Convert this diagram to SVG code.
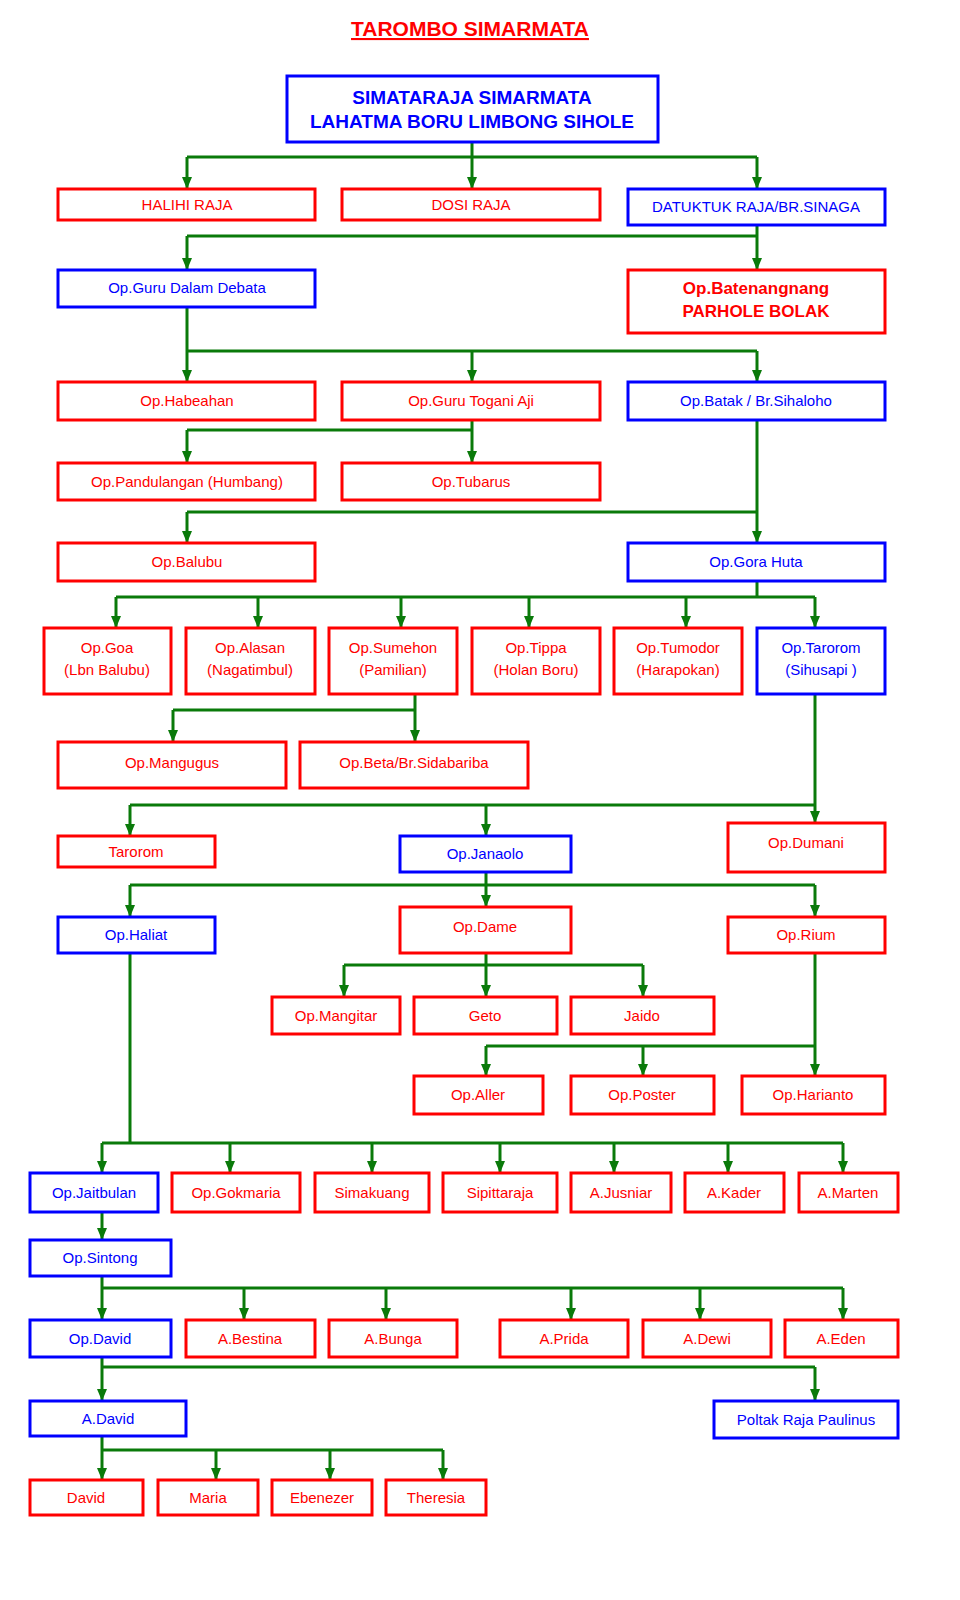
<svg xmlns="http://www.w3.org/2000/svg" width="960" height="1600" viewBox="0 0 960 1600">
<style>
rect{fill:#fff;stroke-width:3}
.r rect{stroke:#f00}.r text{fill:#f00}
.b rect{stroke:#00f}.b text{fill:#00f}
text{font-family:"Liberation Sans",Arial,sans-serif;font-size:15px;text-anchor:middle}
#conn path{fill:none;stroke:#0a7a0a;stroke-width:3}
#conn .a{marker-end:url(#ah)}
</style>
<defs><marker id="ah" viewBox="0 0 12 10" refX="12" refY="5" markerWidth="12" markerHeight="10" markerUnits="userSpaceOnUse" orient="auto"><path d="M0,0 L12,5 L0,10 Z" fill="#0a7a0a"/></marker></defs>
<rect width="960" height="1600" fill="#fff" stroke="none"/>
<text x="470" y="36" style="fill:#f00;font-size:21px;font-weight:bold;text-decoration:underline">TAROMBO SIMARMATA</text>
<g id="conn">
<path d="M472,142V157M187,157H757"/><path class="a" d="M187,157V189"/><path class="a" d="M472,157V189"/><path class="a" d="M757,157V189"/>
<path d="M757,225V236M187,236H757"/><path class="a" d="M187,236V270"/><path class="a" d="M757,236V270"/>
<path d="M187,307V351M187,351H757"/><path class="a" d="M187,351V382"/><path class="a" d="M472,351V382"/><path class="a" d="M757,351V382"/>
<path d="M472,420V430M187,430H472"/><path class="a" d="M187,430V463"/><path class="a" d="M472,430V463"/>
<path d="M757,420V512M187,512H757"/><path class="a" d="M187,512V543"/><path class="a" d="M757,512V543"/>
<path d="M757,581V597M116,597H815"/><path class="a" d="M116,597V628"/><path class="a" d="M258,597V628"/><path class="a" d="M401,597V628"/><path class="a" d="M529,597V628"/><path class="a" d="M686,597V628"/><path class="a" d="M815,597V628"/>
<path d="M415,694V710M173,710H415"/><path class="a" d="M173,710V742"/><path class="a" d="M415,710V742"/>
<path d="M130,805H815"/><path class="a" d="M815,694V823"/><path class="a" d="M130,805V836"/><path class="a" d="M486,805V836"/>
<path d="M486,872V885M130,885H815"/><path class="a" d="M130,885V917"/><path class="a" d="M486,885V907"/><path class="a" d="M815,885V917"/>
<path d="M486,953V965M344,965H643"/><path class="a" d="M344,965V997"/><path class="a" d="M486,965V997"/><path class="a" d="M643,965V997"/>
<path d="M486,1046H815"/><path class="a" d="M815,953V1076"/><path class="a" d="M486,1046V1076"/><path class="a" d="M643,1046V1076"/>
<path d="M130,953V1143M102,1143H843"/><path class="a" d="M102,1143V1173"/><path class="a" d="M230,1143V1173"/><path class="a" d="M372,1143V1173"/><path class="a" d="M500,1143V1173"/><path class="a" d="M614,1143V1173"/><path class="a" d="M728,1143V1173"/><path class="a" d="M843,1143V1173"/>
<path class="a" d="M102,1212V1240"/>
<path d="M102,1276V1288M102,1288H843"/><path class="a" d="M102,1288V1320"/><path class="a" d="M244,1288V1320"/><path class="a" d="M386,1288V1320"/><path class="a" d="M571,1288V1320"/><path class="a" d="M700,1288V1320"/><path class="a" d="M843,1288V1320"/>
<path d="M102,1357V1367M102,1367H815"/><path class="a" d="M102,1367V1401"/><path class="a" d="M815,1367V1401"/>
<path d="M102,1436V1450M102,1450H443"/><path class="a" d="M102,1450V1480"/><path class="a" d="M216,1450V1480"/><path class="a" d="M330,1450V1480"/><path class="a" d="M443,1450V1480"/>
</g>
<g id="root" class="b"><rect x="287" y="76" width="371" height="66" stroke-width="4"/><text x="472" y="104" style="font-size:19px;font-weight:bold">SIMATARAJA SIMARMATA</text><text x="472" y="128" style="font-size:19px;font-weight:bold">LAHATMA BORU LIMBONG SIHOLE</text></g>
<g id="n1" class="r"><rect x="58" y="189" width="257" height="31"/><text x="187" y="210">HALIHI RAJA</text></g>
<g id="n2" class="r"><rect x="342" y="189" width="258" height="31"/><text x="471" y="210">DOSI RAJA</text></g>
<g id="n3" class="b"><rect x="628" y="189" width="257" height="36"/><text x="756" y="212">DATUKTUK RAJA/BR.SINAGA</text></g>
<g id="n4" class="b"><rect x="58" y="270" width="257" height="37"/><text x="187" y="293">Op.Guru Dalam Debata</text></g>
<g id="n5" class="r"><rect x="628" y="270" width="257" height="63"/><text x="756" y="294" style="font-size:17px;font-weight:bold">Op.Batenangnang</text><text x="756" y="317" style="font-size:17px;font-weight:bold">PARHOLE BOLAK</text></g>
<g id="n6" class="r"><rect x="58" y="382" width="257" height="38"/><text x="187" y="406">Op.Habeahan</text></g>
<g id="n7" class="r"><rect x="342" y="382" width="258" height="38"/><text x="471" y="406">Op.Guru Togani Aji</text></g>
<g id="n8" class="b"><rect x="628" y="382" width="257" height="38"/><text x="756" y="406">Op.Batak / Br.Sihaloho</text></g>
<g id="n9" class="r"><rect x="58" y="463" width="257" height="37"/><text x="187" y="487">Op.Pandulangan (Humbang)</text></g>
<g id="n10" class="r"><rect x="342" y="463" width="258" height="37"/><text x="471" y="487">Op.Tubarus</text></g>
<g id="n11" class="r"><rect x="58" y="543" width="257" height="38"/><text x="187" y="567">Op.Balubu</text></g>
<g id="n12" class="b"><rect x="628" y="543" width="257" height="38"/><text x="756" y="567">Op.Gora Huta</text></g>
<g id="n13" class="r"><rect x="44" y="628" width="127" height="66"/><text x="107" y="653">Op.Goa</text><text x="107" y="675">(Lbn Balubu)</text></g>
<g id="n14" class="r"><rect x="186" y="628" width="129" height="66"/><text x="250" y="653">Op.Alasan</text><text x="250" y="675">(Nagatimbul)</text></g>
<g id="n15" class="r"><rect x="329" y="628" width="128" height="66"/><text x="393" y="653">Op.Sumehon</text><text x="393" y="675">(Pamilian)</text></g>
<g id="n16" class="r"><rect x="472" y="628" width="128" height="66"/><text x="536" y="653">Op.Tippa</text><text x="536" y="675">(Holan Boru)</text></g>
<g id="n17" class="r"><rect x="614" y="628" width="128" height="66"/><text x="678" y="653">Op.Tumodor</text><text x="678" y="675">(Harapokan)</text></g>
<g id="n18" class="b"><rect x="757" y="628" width="128" height="66"/><text x="821" y="653">Op.Tarorom</text><text x="821" y="675">(Sihusapi )</text></g>
<g id="n19" class="r"><rect x="58" y="742" width="228" height="46"/><text x="172" y="768">Op.Mangugus</text></g>
<g id="n20" class="r"><rect x="300" y="742" width="228" height="46"/><text x="414" y="768">Op.Beta/Br.Sidabariba</text></g>
<g id="n21" class="r"><rect x="58" y="836" width="157" height="31"/><text x="136" y="857">Tarorom</text></g>
<g id="n22" class="b"><rect x="400" y="836" width="171" height="36"/><text x="485" y="859">Op.Janaolo</text></g>
<g id="n23" class="r"><rect x="728" y="823" width="157" height="49"/><text x="806" y="848">Op.Dumani</text></g>
<g id="n24" class="b"><rect x="58" y="917" width="157" height="36"/><text x="136" y="940">Op.Haliat</text></g>
<g id="n25" class="r"><rect x="400" y="907" width="171" height="46"/><text x="485" y="932">Op.Dame</text></g>
<g id="n26" class="r"><rect x="728" y="917" width="157" height="36"/><text x="806" y="940">Op.Rium</text></g>
<g id="n27" class="r"><rect x="272" y="997" width="128" height="37"/><text x="336" y="1021">Op.Mangitar</text></g>
<g id="n28" class="r"><rect x="414" y="997" width="143" height="37"/><text x="485" y="1021">Geto</text></g>
<g id="n29" class="r"><rect x="571" y="997" width="143" height="37"/><text x="642" y="1021">Jaido</text></g>
<g id="n30" class="r"><rect x="414" y="1076" width="129" height="38"/><text x="478" y="1100">Op.Aller</text></g>
<g id="n31" class="r"><rect x="571" y="1076" width="143" height="38"/><text x="642" y="1100">Op.Poster</text></g>
<g id="n32" class="r"><rect x="742" y="1076" width="143" height="38"/><text x="813" y="1100">Op.Harianto</text></g>
<g id="n33" class="b"><rect x="30" y="1173" width="128" height="39"/><text x="94" y="1198">Op.Jaitbulan</text></g>
<g id="n34" class="r"><rect x="172" y="1173" width="128" height="39"/><text x="236" y="1198">Op.Gokmaria</text></g>
<g id="n35" class="r"><rect x="315" y="1173" width="114" height="39"/><text x="372" y="1198">Simakuang</text></g>
<g id="n36" class="r"><rect x="443" y="1173" width="114" height="39"/><text x="500" y="1198">Sipittaraja</text></g>
<g id="n37" class="r"><rect x="571" y="1173" width="100" height="39"/><text x="621" y="1198">A.Jusniar</text></g>
<g id="n38" class="r"><rect x="685" y="1173" width="99" height="39"/><text x="734" y="1198">A.Kader</text></g>
<g id="n39" class="r"><rect x="799" y="1173" width="99" height="39"/><text x="848" y="1198">A.Marten</text></g>
<g id="n40" class="b"><rect x="30" y="1240" width="141" height="36"/><text x="100" y="1263">Op.Sintong</text></g>
<g id="n41" class="b"><rect x="30" y="1320" width="141" height="37"/><text x="100" y="1344">Op.David</text></g>
<g id="n42" class="r"><rect x="186" y="1320" width="129" height="37"/><text x="250" y="1344">A.Bestina</text></g>
<g id="n43" class="r"><rect x="329" y="1320" width="128" height="37"/><text x="393" y="1344">A.Bunga</text></g>
<g id="n44" class="r"><rect x="500" y="1320" width="128" height="37"/><text x="564" y="1344">A.Prida</text></g>
<g id="n45" class="r"><rect x="643" y="1320" width="128" height="37"/><text x="707" y="1344">A.Dewi</text></g>
<g id="n46" class="r"><rect x="785" y="1320" width="113" height="37"/><text x="841" y="1344">A.Eden</text></g>
<g id="n47" class="b"><rect x="30" y="1401" width="156" height="35"/><text x="108" y="1424">A.David</text></g>
<g id="n48" class="b"><rect x="714" y="1401" width="184" height="37"/><text x="806" y="1425">Poltak Raja Paulinus</text></g>
<g id="n49" class="r"><rect x="30" y="1480" width="113" height="35"/><text x="86" y="1503">David</text></g>
<g id="n50" class="r"><rect x="158" y="1480" width="100" height="35"/><text x="208" y="1503">Maria</text></g>
<g id="n51" class="r"><rect x="272" y="1480" width="100" height="35"/><text x="322" y="1503">Ebenezer</text></g>
<g id="n52" class="r"><rect x="386" y="1480" width="100" height="35"/><text x="436" y="1503">Theresia</text></g>
</svg>
